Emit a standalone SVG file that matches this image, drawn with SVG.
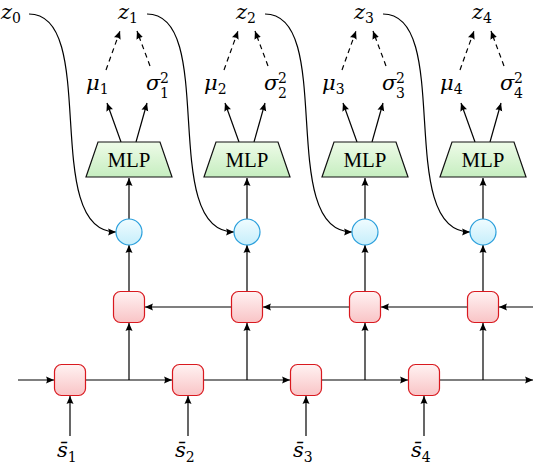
<svg xmlns="http://www.w3.org/2000/svg" width="536" height="466" viewBox="0 0 536 466">
<defs>
<linearGradient id="gBox" x1="0" y1="0" x2="0" y2="1"><stop offset="0" stop-color="#fff2f2"/><stop offset="1" stop-color="#f9c4c6"/></linearGradient>
<linearGradient id="gCirc" x1="0" y1="0" x2="0" y2="1"><stop offset="0" stop-color="#f0fcff"/><stop offset="1" stop-color="#c6eefb"/></linearGradient>
<linearGradient id="gMlp" x1="0" y1="0" x2="0" y2="1"><stop offset="0" stop-color="#eefbe8"/><stop offset="1" stop-color="#c6eec0"/></linearGradient>
<marker id="ah" markerUnits="userSpaceOnUse" markerWidth="10" markerHeight="8" refX="8" refY="4" orient="auto"><path d="M0,0.5 L8,4 L0,7.5 Q2,4 0,0.5 z" fill="#000"/></marker>
</defs>
<style>
.box{fill:url(#gBox);stroke:#d9191f;stroke-width:1.2}
.circ{fill:url(#gCirc);stroke:#2a9fdc;stroke-width:1.2}
.mlp{fill:url(#gMlp);stroke:#111;stroke-width:1.2}
.ar{fill:none;stroke:#000;stroke-width:1.2;marker-end:url(#ah)}
.da{fill:none;stroke:#000;stroke-width:1.2;stroke-dasharray:5,4;marker-end:url(#ah)}
.m{font-family:"DejaVu Serif","Liberation Serif",serif;font-style:italic;font-size:21px;fill:#000}
.sb{font-style:normal;font-size:14px}
.s{font-family:"DejaVu Serif","Liberation Serif",serif;font-size:14px;fill:#000}
.t{font-family:"Liberation Serif","DejaVu Serif",serif;font-size:22px;fill:#000}
</style>
<g id="connectors">
<line class="ar" x1="18" y1="380" x2="54" y2="380"/>
<line class="ar" x1="86" y1="380" x2="172" y2="380"/>
<line class="ar" x1="204" y1="380" x2="290" y2="380"/>
<line class="ar" x1="322" y1="380" x2="408" y2="380"/>
<line class="ar" x1="440" y1="380" x2="533" y2="380"/>
<line class="ar" x1="70" y1="436" x2="70" y2="396"/>
<line class="ar" x1="188" y1="436" x2="188" y2="396"/>
<line class="ar" x1="306" y1="436" x2="306" y2="396"/>
<line class="ar" x1="424" y1="436" x2="424" y2="396"/>
<line class="ar" x1="129" y1="380" x2="129" y2="323"/>
<line class="ar" x1="247" y1="380" x2="247" y2="323"/>
<line class="ar" x1="365" y1="380" x2="365" y2="323"/>
<line class="ar" x1="483" y1="380" x2="483" y2="323"/>
<line class="ar" x1="533" y1="307" x2="499" y2="307"/>
<line class="ar" x1="467" y1="307" x2="381" y2="307"/>
<line class="ar" x1="349" y1="307" x2="263" y2="307"/>
<line class="ar" x1="231" y1="307" x2="145" y2="307"/>
<line class="ar" x1="129" y1="291" x2="129" y2="245"/>
<line class="ar" x1="247" y1="291" x2="247" y2="245"/>
<line class="ar" x1="365" y1="291" x2="365" y2="245"/>
<line class="ar" x1="483" y1="291" x2="483" y2="245"/>
<line class="ar" x1="129" y1="219" x2="129" y2="178"/>
<line class="ar" x1="247" y1="219" x2="247" y2="178"/>
<line class="ar" x1="365" y1="219" x2="365" y2="178"/>
<line class="ar" x1="483" y1="219" x2="483" y2="178"/>
<line class="ar" x1="121" y1="142" x2="107" y2="103"/>
<line class="ar" x1="136" y1="142" x2="147" y2="103"/>
<line class="ar" x1="239" y1="142" x2="225" y2="103"/>
<line class="ar" x1="254" y1="142" x2="265" y2="103"/>
<line class="ar" x1="357" y1="142" x2="343" y2="103"/>
<line class="ar" x1="372" y1="142" x2="383" y2="103"/>
<line class="ar" x1="475" y1="142" x2="461" y2="103"/>
<line class="ar" x1="490" y1="142" x2="501" y2="103"/>
<line class="da" x1="106" y1="70" x2="120" y2="31"/>
<line class="da" x1="150" y1="66" x2="137" y2="31"/>
<line class="da" x1="224" y1="70" x2="238" y2="31"/>
<line class="da" x1="268" y1="66" x2="255" y2="31"/>
<line class="da" x1="342" y1="70" x2="356" y2="31"/>
<line class="da" x1="386" y1="66" x2="373" y2="31"/>
<line class="da" x1="460" y1="70" x2="474" y2="31"/>
<line class="da" x1="504" y1="66" x2="491" y2="31"/>
<path class="ar" d="M29,14 C100,14 40,232 116,232"/>
<path class="ar" d="M147,14 C218,14 158,232 234,232"/>
<path class="ar" d="M265,14 C336,14 276,232 352,232"/>
<path class="ar" d="M383,14 C454,14 394,232 470,232"/>
</g>
<g id="enc1"><rect class="box" x="54.5" y="364.5" width="31" height="31" rx="7"/></g>
<g id="enc2"><rect class="box" x="172.5" y="364.5" width="31" height="31" rx="7"/></g>
<g id="enc3"><rect class="box" x="290.5" y="364.5" width="31" height="31" rx="7"/></g>
<g id="enc4"><rect class="box" x="408.5" y="364.5" width="31" height="31" rx="7"/></g>
<g id="bwd1"><rect class="box" x="113.5" y="291.5" width="31" height="31" rx="7"/></g>
<g id="bwd2"><rect class="box" x="231.5" y="291.5" width="31" height="31" rx="7"/></g>
<g id="bwd3"><rect class="box" x="349.5" y="291.5" width="31" height="31" rx="7"/></g>
<g id="bwd4"><rect class="box" x="467.5" y="291.5" width="31" height="31" rx="7"/></g>
<g id="comb1"><circle class="circ" cx="129" cy="232" r="13"/></g>
<g id="comb2"><circle class="circ" cx="247" cy="232" r="13"/></g>
<g id="comb3"><circle class="circ" cx="365" cy="232" r="13"/></g>
<g id="comb4"><circle class="circ" cx="483" cy="232" r="13"/></g>
<g id="mlp1"><polygon class="mlp" points="98,142 160,142 172,177 86,177"/><text class="t" x="129" y="167" text-anchor="middle" textLength="43" lengthAdjust="spacingAndGlyphs">MLP</text></g>
<g id="mlp2"><polygon class="mlp" points="216,142 278,142 290,177 204,177"/><text class="t" x="247" y="167" text-anchor="middle" textLength="43" lengthAdjust="spacingAndGlyphs">MLP</text></g>
<g id="mlp3"><polygon class="mlp" points="334,142 396,142 408,177 322,177"/><text class="t" x="365" y="167" text-anchor="middle" textLength="43" lengthAdjust="spacingAndGlyphs">MLP</text></g>
<g id="mlp4"><polygon class="mlp" points="452,142 514,142 526,177 440,177"/><text class="t" x="483" y="167" text-anchor="middle" textLength="43" lengthAdjust="spacingAndGlyphs">MLP</text></g>
<g id="z0"><text class="m" x="1" y="19">z<tspan class="sb" dy="4">0</tspan></text></g>
<g id="z1"><text class="m" x="118" y="19">z<tspan class="sb" dy="4">1</tspan></text></g>
<g id="z2"><text class="m" x="236" y="19">z<tspan class="sb" dy="4">2</tspan></text></g>
<g id="z3"><text class="m" x="354" y="19">z<tspan class="sb" dy="4">3</tspan></text></g>
<g id="z4"><text class="m" x="472" y="19">z<tspan class="sb" dy="4">4</tspan></text></g>
<g id="mu1"><text class="m" x="86" y="90">μ<tspan class="sb" dy="4">1</tspan></text></g>
<g id="mu2"><text class="m" x="204" y="90">μ<tspan class="sb" dy="4">2</tspan></text></g>
<g id="mu3"><text class="m" x="322" y="90">μ<tspan class="sb" dy="4">3</tspan></text></g>
<g id="mu4"><text class="m" x="440" y="90">μ<tspan class="sb" dy="4">4</tspan></text></g>
<g id="sig1"><text class="m" x="146" y="90">σ</text><text class="s" x="160" y="83">2</text><text class="s" x="160" y="98">1</text></g>
<g id="sig2"><text class="m" x="264" y="90">σ</text><text class="s" x="278" y="83">2</text><text class="s" x="278" y="98">2</text></g>
<g id="sig3"><text class="m" x="382" y="90">σ</text><text class="s" x="396" y="83">2</text><text class="s" x="396" y="98">3</text></g>
<g id="sig4"><text class="m" x="500" y="90">σ</text><text class="s" x="514" y="83">2</text><text class="s" x="514" y="98">4</text></g>
<g id="s1"><text class="m" x="57" y="457">s̄<tspan class="sb" dy="5">1</tspan></text></g>
<g id="s2"><text class="m" x="175" y="457">s̄<tspan class="sb" dy="5">2</tspan></text></g>
<g id="s3"><text class="m" x="293" y="457">s̄<tspan class="sb" dy="5">3</tspan></text></g>
<g id="s4"><text class="m" x="411" y="457">s̄<tspan class="sb" dy="5">4</tspan></text></g>
</svg>
